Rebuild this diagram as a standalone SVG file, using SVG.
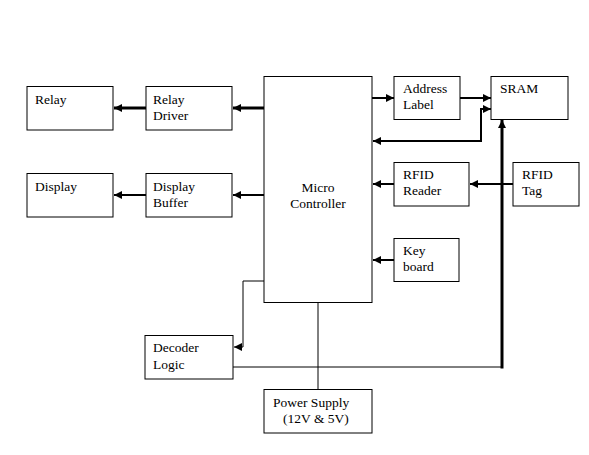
<svg xmlns="http://www.w3.org/2000/svg" width="589" height="455" viewBox="0 0 589 455">
<style>
.box{fill:#fff;stroke:#000;stroke-width:1}
.t{font-family:"Liberation Serif","Times New Roman",serif;font-size:13.5px;fill:#000}
.w1{fill:none;stroke:#000;stroke-width:1}
.w2{fill:none;stroke:#000;stroke-width:2}
.w3{fill:none;stroke:#000;stroke-width:3}
</style>
<defs>
<marker id="ah" viewBox="0 0 10 10" refX="10" refY="5" markerUnits="userSpaceOnUse" markerWidth="9" markerHeight="8" orient="auto">
<path d="M0,0 L10,5 L0,10 z" fill="#000"/>
</marker>
</defs>
<rect width="589" height="455" fill="#fff"/>
<g id="connectors">
<line class="w3" x1="264" y1="108" x2="233" y2="108" marker-end="url(#ah)"/>
<line class="w3" x1="146" y1="108" x2="114" y2="108" marker-end="url(#ah)"/>
<line class="w2" x1="264" y1="195" x2="233" y2="195" marker-end="url(#ah)"/>
<line class="w2" x1="146" y1="195" x2="114" y2="195" marker-end="url(#ah)"/>
<line class="w2" x1="372" y1="98" x2="394" y2="98" marker-end="url(#ah)"/>
<line class="w2" x1="460" y1="98" x2="491" y2="98" marker-end="url(#ah)"/>
<polyline class="w2" points="481,141 481,109 491,109" marker-end="url(#ah)"/>
<line class="w2" x1="482" y1="141" x2="373" y2="141" marker-end="url(#ah)"/>
<line class="w2" x1="513" y1="184" x2="470" y2="184" marker-end="url(#ah)"/>
<line class="w2" x1="394" y1="184" x2="373" y2="184" marker-end="url(#ah)"/>
<line class="w2" x1="394" y1="260" x2="373" y2="260" marker-end="url(#ah)"/>
<polyline class="w1" points="264,281 243,281 243,347 234,347" marker-end="url(#ah)"/>
<line class="w1" x1="233" y1="367" x2="503" y2="367"/>
<line class="w3" x1="502" y1="368.5" x2="502" y2="120" marker-end="url(#ah)"/>
<line class="w1" x1="318" y1="303" x2="318" y2="389"/>
</g>
<g id="relay"><rect class="box" x="27" y="86.5" width="86" height="43.5"/><text class="t" x="35" y="104">Relay</text></g>
<g id="relay-driver"><rect class="box" x="146" y="86.5" width="86" height="43.5"/><text class="t" x="153" y="104">Relay</text><text class="t" x="153" y="120">Driver</text></g>
<g id="display"><rect class="box" x="27" y="173.5" width="86" height="43.5"/><text class="t" x="35" y="191">Display</text></g>
<g id="display-buffer"><rect class="box" x="146" y="173.5" width="86" height="43.5"/><text class="t" x="153" y="191">Display</text><text class="t" x="153" y="207">Buffer</text></g>
<g id="micro-controller"><rect class="box" x="264" y="76.5" width="108" height="226"/><text class="t" x="318" y="192" text-anchor="middle">Micro</text><text class="t" x="318" y="208" text-anchor="middle">Controller</text></g>
<g id="address-label"><rect class="box" x="394" y="76.5" width="66" height="43"/><text class="t" x="403" y="93">Address</text><text class="t" x="403" y="109">Label</text></g>
<g id="sram"><rect class="box" x="491" y="76.5" width="77" height="43"/><text class="t" x="500" y="93">SRAM</text></g>
<g id="rfid-reader"><rect class="box" x="394" y="162.5" width="75" height="43.5"/><text class="t" x="403" y="179">RFID</text><text class="t" x="403" y="195">Reader</text></g>
<g id="rfid-tag"><rect class="box" x="513" y="162.5" width="66" height="43.5"/><text class="t" x="522" y="179">RFID</text><text class="t" x="522" y="195">Tag</text></g>
<g id="keyboard"><rect class="box" x="394" y="238.5" width="65" height="43"/><text class="t" x="403" y="255">Key</text><text class="t" x="403" y="271">board</text></g>
<g id="decoder-logic"><rect class="box" x="145" y="335.5" width="88" height="43.5"/><text class="t" x="153" y="352">Decoder</text><text class="t" x="153" y="369">Logic</text></g>
<g id="power-supply"><rect class="box" x="264" y="389.5" width="108" height="43.5"/><text class="t" x="273" y="407">Power Supply</text><text class="t" x="283" y="423">(12V &amp; 5V)</text></g>
</svg>
